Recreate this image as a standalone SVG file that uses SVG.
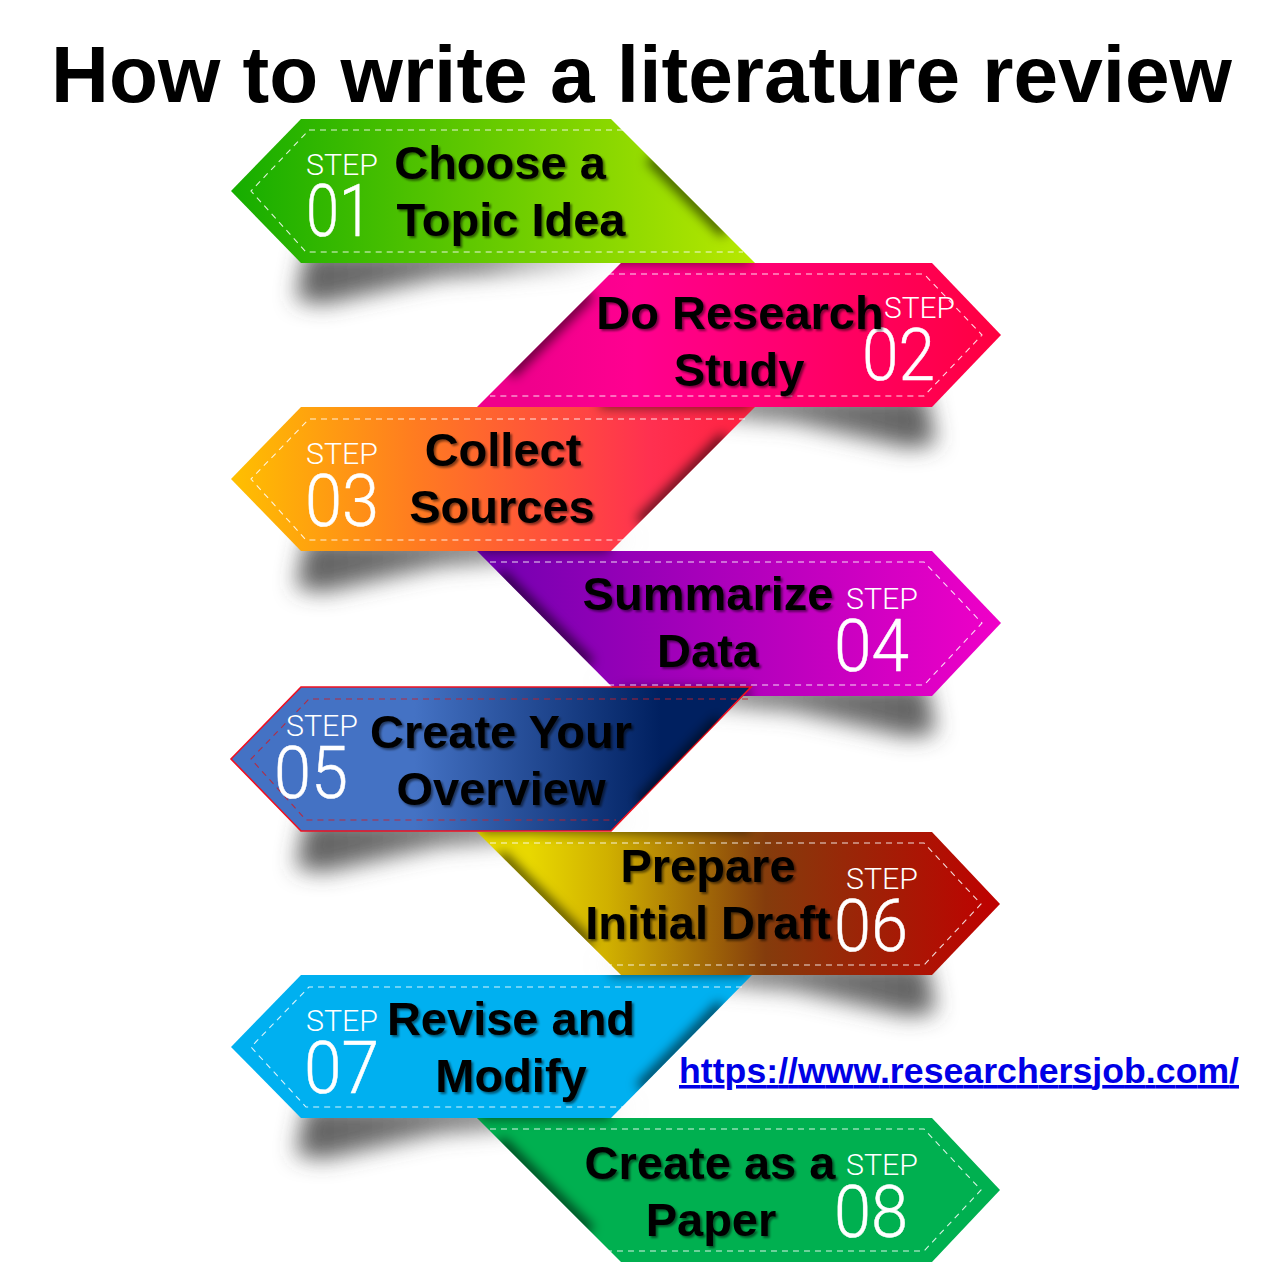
<svg xmlns="http://www.w3.org/2000/svg" xmlns:xlink="http://www.w3.org/1999/xlink" width="1280" height="1288" viewBox="0 0 1280 1288">
<style>
.title{font:bold 80px "Liberation Sans",Arial,sans-serif;fill:#000}
.lbl{font:bold 47px "Liberation Sans",Arial,sans-serif;fill:#000;text-anchor:middle;filter:url(#ts)}
.step{font:300 30px "Roboto","Lato",sans-serif;fill:#fff}
.num{font:300 72px "Roboto","Lato",sans-serif;fill:#fff;stroke:#fff;stroke-width:.5}
.dash{fill:none;stroke:#fff;stroke-opacity:.85;stroke-width:1.1;stroke-dasharray:6 5}
.edge{fill:none;stroke:#000;stroke-width:10;stroke-opacity:.7;filter:url(#b6)}
.band{fill:none;stroke:#000;stroke-width:12;stroke-opacity:.55;filter:url(#b6)}
.url{font:bold 35.6px "Liberation Sans",Arial,sans-serif;fill:#0000e6;text-decoration:underline}
</style>
<defs>
<filter id="ts" x="-10%" y="-20%" width="120%" height="140%"><feDropShadow dx="2" dy="2" stdDeviation="1.3" flood-color="#000" flood-opacity=".5"/></filter>
<filter id="b6" filterUnits="userSpaceOnUse" x="0" y="0" width="1280" height="1288"><feGaussianBlur stdDeviation="6"/></filter>
<filter id="b9" filterUnits="userSpaceOnUse" x="200" y="200" width="500" height="160"><feGaussianBlur stdDeviation="11"/></filter>
<linearGradient id="sg" gradientUnits="userSpaceOnUse" x1="290" x2="640" y1="0" y2="0"><stop offset="0" stop-color="#444"/><stop offset=".55" stop-color="#666"/><stop offset="1" stop-color="#aaa" stop-opacity=".2"/></linearGradient>
<polygon id="sh" points="306,250 640,250 570,268 440,278 324,304 296,300" fill="url(#sg)" fill-opacity=".85" filter="url(#b9)"/>
<linearGradient id="g1" gradientUnits="userSpaceOnUse" x1="231" x2="755" y1="0" y2="0"><stop offset="0" stop-color="#15ad00"/><stop offset="1" stop-color="#b8e800"/></linearGradient>
<linearGradient id="g2" gradientUnits="userSpaceOnUse" x1="477" x2="1001" y1="0" y2="0"><stop offset=".1" stop-color="#f0008c"/><stop offset=".3" stop-color="#ff0090"/><stop offset="1" stop-color="#ff0040"/></linearGradient>
<linearGradient id="g3" gradientUnits="userSpaceOnUse" x1="231" x2="755" y1="0" y2="0"><stop offset="0" stop-color="#ffc000"/><stop offset=".35" stop-color="#ff7c20"/><stop offset=".8" stop-color="#ff3050"/><stop offset="1" stop-color="#ff2040"/></linearGradient>
<linearGradient id="g4" gradientUnits="userSpaceOnUse" x1="477" x2="1001" y1="0" y2="0"><stop offset="0" stop-color="#7000b0"/><stop offset="1" stop-color="#f000c8"/></linearGradient>
<linearGradient id="g5" gradientUnits="userSpaceOnUse" x1="231" x2="755" y1="0" y2="0"><stop offset=".35" stop-color="#4472c4"/><stop offset=".82" stop-color="#002060"/></linearGradient>
<linearGradient id="g6" gradientUnits="userSpaceOnUse" x1="477" x2="1001" y1="0" y2="0"><stop offset=".1" stop-color="#e8d800"/><stop offset=".25" stop-color="#d0b000"/><stop offset=".55" stop-color="#843c0c"/><stop offset="1" stop-color="#c00000"/></linearGradient>
<clipPath id="c1"><polygon points="301,119 611,119 755,263 301,263 231,191"/></clipPath>
<clipPath id="c2"><polygon points="621,263 932,263 1001,335 932,407 477,407"/></clipPath>
<clipPath id="c3"><polygon points="301,407 755,407 611,551 301,551 231,479"/></clipPath>
<clipPath id="c4"><polygon points="477,551 932,551 1001,623 932,696 621,696"/></clipPath>
<clipPath id="c5"><polygon points="301,687 751,687 611,831 301,831 231,759"/></clipPath>
<clipPath id="c6"><polygon points="477,832 932,832 1000,904 932,975 621,975"/></clipPath>
<clipPath id="c7"><polygon points="301,975 752,975 611,1118 301,1118 231,1047"/></clipPath>
<clipPath id="c8"><polygon points="477,1118 932,1118 1000,1190 932,1262 621,1262"/></clipPath>
</defs>
<rect width="1280" height="1288" fill="#fff"/>
<text class="title" x="51" y="102" textLength="1181" lengthAdjust="spacingAndGlyphs">How to write a literature review</text>
<g id="connectors"/>

<g id="node1">
<use xlink:href="#sh"/>
<polygon points="301,119 611,119 755,263 301,263 231,191" fill="url(#g1)"/>
<g clip-path="url(#c1)"><line class="edge" x1="650" y1="158" x2="725" y2="233"/></g>
<polyline class="dash" points="623,130 309,130 251,191 306,252 743,252"/>
<text class="step" x="306" y="175" textLength="72" lengthAdjust="spacingAndGlyphs">STEP</text>
<text class="num" x="306" y="236" textLength="66" lengthAdjust="spacingAndGlyphs">01</text>
<text class="lbl" x="500" y="179">Choose a</text>
<text class="lbl" x="511" y="236">Topic Idea</text>
</g>

<g id="node2">
<use xlink:href="#sh" transform="matrix(-1 0 0 1 1232 144)"/>
<polygon points="621,263 932,263 1001,335 932,407 477,407" fill="url(#g2)"/>
<g clip-path="url(#c2)"><line class="edge" x1="590" y1="294" x2="510" y2="374"/><line class="band" x1="610" y1="258" x2="750" y2="258"/></g>
<polyline class="dash" points="608,274 924,274 982,335 924,396 490,396"/>
<text class="step" x="884" y="318" textLength="71" lengthAdjust="spacingAndGlyphs">STEP</text>
<text class="num" x="862" y="380" textLength="73" lengthAdjust="spacingAndGlyphs">02</text>
<text class="lbl" x="740" y="329">Do Research</text>
<text class="lbl" x="739" y="386">Study</text>
</g>

<g id="node3">
<use xlink:href="#sh" transform="translate(0 288)"/>
<polygon points="301,407 755,407 611,551 301,551 231,479" fill="url(#g3)"/>
<g clip-path="url(#c3)"><line class="edge" x1="725" y1="437" x2="640" y2="522"/><line class="band" x1="600" y1="402" x2="750" y2="402"/></g>
<polyline class="dash" points="745,419 309,419 251,479 306,540 623,540"/>
<text class="step" x="306" y="464" textLength="72" lengthAdjust="spacingAndGlyphs">STEP</text>
<text class="num" x="305" y="526" textLength="74" lengthAdjust="spacingAndGlyphs">03</text>
<text class="lbl" x="503" y="466">Collect</text>
<text class="lbl" x="502" y="523">Sources</text>
</g>

<g id="node4">
<use xlink:href="#sh" transform="matrix(-1 0 0 1 1232 433)"/>
<polygon points="477,551 932,551 1001,623 932,696 621,696" fill="url(#g4)"/>
<g clip-path="url(#c4)"><line class="edge" x1="500" y1="574" x2="590" y2="664"/><line class="band" x1="480" y1="546" x2="610" y2="546"/><line class="band" x1="620" y1="694" x2="750" y2="694"/></g>
<polyline class="dash" points="490,562 924,562 982,623 924,685 608,685"/>
<text class="step" x="846" y="609" textLength="72" lengthAdjust="spacingAndGlyphs">STEP</text>
<text class="num" x="834" y="671" textLength="75" lengthAdjust="spacingAndGlyphs">04</text>
<text class="lbl" x="708" y="610">Summarize</text>
<text class="lbl" x="708" y="667">Data</text>
</g>

<g id="node5">
<use xlink:href="#sh" transform="translate(0 568)"/>
<polygon points="301,687 751,687 611,831 301,831 231,759" fill="url(#g5)" stroke="#f01020" stroke-width="1.6"/>
<g clip-path="url(#c5)"><line class="edge" x1="720" y1="720" x2="640" y2="803"/></g>
<polyline class="dash" points="748,699 309,699 251,759 306,820 616,820" style="stroke:#c8202c"/>
<text class="step" x="286" y="736" textLength="72" lengthAdjust="spacingAndGlyphs">STEP</text>
<text class="num" x="274" y="798" textLength="74" lengthAdjust="spacingAndGlyphs">05</text>
<text class="lbl" x="501" y="748">Create Your</text>
<text class="lbl" x="501" y="805">Overview</text>
</g>

<g id="node6">
<use xlink:href="#sh" transform="matrix(-1 0 0 1 1232 712)"/>
<polygon points="477,832 932,832 1000,904 932,975 621,975" fill="url(#g6)"/>
<g clip-path="url(#c6)"><line class="edge" x1="500" y1="855" x2="590" y2="945"/><line class="band" x1="480" y1="827" x2="750" y2="827"/></g>
<polyline class="dash" points="490,843 924,843 981,904 924,965 608,965"/>
<text class="step" x="846" y="889" textLength="72" lengthAdjust="spacingAndGlyphs">STEP</text>
<text class="num" x="834" y="951" textLength="74" lengthAdjust="spacingAndGlyphs">06</text>
<text class="lbl" x="708" y="882">Prepare</text>
<text class="lbl" x="708" y="939">Initial Draft</text>
</g>

<g id="node7">
<use xlink:href="#sh" transform="translate(0 855)"/>
<polygon points="301,975 752,975 611,1118 301,1118 231,1047" fill="#00b0f0"/>
<g clip-path="url(#c7)"><line class="edge" x1="722" y1="1005" x2="640" y2="1088"/><line class="band" x1="610" y1="970" x2="750" y2="970"/></g>
<polyline class="dash" points="742,987 309,987 251,1047 306,1107 623,1107"/>
<text class="step" x="306" y="1031" textLength="72" lengthAdjust="spacingAndGlyphs">STEP</text>
<text class="num" x="304" y="1093" textLength="75" lengthAdjust="spacingAndGlyphs">07</text>
<text class="lbl" x="511" y="1035">Revise and</text>
<text class="lbl" x="511" y="1092">Modify</text>
</g>

<g id="node8">
<polygon points="477,1118 932,1118 1000,1190 932,1262 621,1262" fill="#00b050"/>
<g clip-path="url(#c8)"><line class="edge" x1="500" y1="1141" x2="590" y2="1231"/><line class="band" x1="480" y1="1113" x2="610" y2="1113"/></g>
<polyline class="dash" points="490,1129 924,1129 981,1190 924,1251 608,1251"/>
<text class="step" x="846" y="1175" textLength="72" lengthAdjust="spacingAndGlyphs">STEP</text>
<text class="num" x="834" y="1237" textLength="74" lengthAdjust="spacingAndGlyphs">08</text>
<text class="lbl" x="710" y="1179">Create as a</text>
<text class="lbl" x="711" y="1236">Paper</text>
</g>

<text class="url" x="679" y="1083" textLength="560">https://www.researchersjob.com/</text>
</svg>
